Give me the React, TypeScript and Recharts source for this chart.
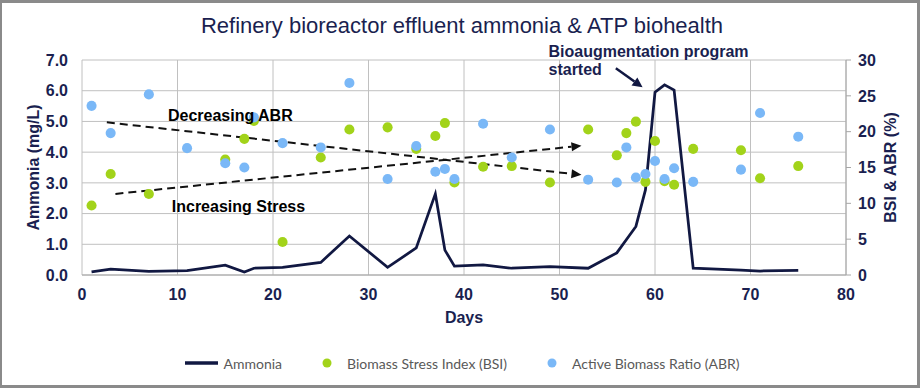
import React from 'react';
import {
  ComposedChart,
  Line,
  Scatter,
  XAxis,
  YAxis,
  ZAxis,
  CartesianGrid,
  Legend,
  ReferenceLine,
  ReferenceDot,
} from 'recharts';

// ---------- data ----------
const ammoniaDays = [1, 3, 7, 11, 15, 17, 18, 21, 25, 28, 32, 35, 37, 38, 39, 42, 45, 49, 53, 56, 58, 59, 60, 61, 62, 64, 69, 71, 75];
const ammoniaValues = [0.1, 0.19, 0.12, 0.14, 0.32, 0.1, 0.22, 0.25, 0.41, 1.27, 0.25, 0.88, 2.64, 0.81, 0.29, 0.33, 0.22, 0.27, 0.22, 0.72, 1.58, 2.77, 5.95, 6.19, 6.02, 0.22, 0.16, 0.13, 0.15];

const bsiDays = [1, 3, 7, 15, 17, 18, 21, 25, 28, 32, 35, 37, 38, 39, 42, 45, 49, 53, 56, 57, 58, 59, 60, 61, 62, 64, 69, 71, 75];
const bsiValues = [9.7, 14.1, 11.3, 16.1, 19.0, 21.5, 4.6, 16.4, 20.3, 20.6, 17.6, 19.4, 21.2, 12.9, 15.1, 15.2, 12.9, 20.3, 16.7, 19.8, 21.4, 13.0, 18.7, 13.1, 12.6, 17.6, 17.4, 13.5, 15.2];

const abrDays = [1, 3, 7, 11, 15, 17, 18, 21, 25, 28, 32, 35, 37, 38, 39, 42, 45, 49, 53, 56, 57, 58, 59, 60, 61, 62, 64, 69, 71, 75];
const abrValues = [23.6, 19.8, 25.2, 17.7, 15.6, 15.0, 22.0, 18.4, 17.8, 26.8, 13.4, 18.0, 14.4, 14.8, 13.4, 21.1, 16.4, 20.3, 13.3, 12.9, 17.8, 13.6, 14.1, 15.9, 13.4, 14.9, 13.0, 14.7, 22.6, 19.3];

const xTicks = [0, 10, 20, 30, 40, 50, 60, 70, 80];
const leftTicks = [0, 1, 2, 3, 4, 5, 6, 7];
const rightTicks = [0, 5, 10, 15, 20, 25, 30];

const seriesNames = ['Ammonia', 'Biomass Stress Index (BSI)', 'Active Biomass Ratio (ABR)'];

// annotation anchors (data units: day, ammonia mg/L)
const decreasingTrend = [{ x: 2.6, y: 4.97 }, { x: 52.3, y: 3.26 }];
const increasingTrend = [{ x: 3.5, y: 2.64 }, { x: 52.3, y: 4.21 }];
const bioArrow = [{ x: 55.9, y: 6.73 }, { x: 58.7, y: 6.11 }];
const decreasingLabel = { x: 9.0, y: 5.01, text: 'Decreasing ABR' };
const increasingLabel = { x: 9.4, y: 2.05, text: 'Increasing Stress' };
const bioLabel1 = { x: 48.85, y: 7.11, text: 'Bioaugmentation program' };
const bioLabel2 = { x: 48.85, y: 6.51, text: 'started' };

const ammoniaData = ammoniaDays.map((d, i) => ({ day: d, ammonia: ammoniaValues[i] }));
const bsiData = bsiDays.map((d, i) => ({ day: d, pct: bsiValues[i] }));
const abrData = abrDays.map((d, i) => ({ day: d, pct: abrValues[i] }));

// ---------- styles ----------
const NAVY = '#111842';
const TEXT_NAVY = '#1a1f50';
const GREEN = '#a2d31a';
const BLUE = '#7ab8f7';
const GRID = '#c0c0c0';
const FONT = "'Liberation Sans', Arial, sans-serif";

const makeArrow = (color: string, width: number, dash?: string, headLen = 10, headHalf = 4.5) =>
  (props: any) => {
    const { x1, y1, x2, y2 } = props;
    const dx = x2 - x1;
    const dy = y2 - y1;
    const len = Math.sqrt(dx * dx + dy * dy) || 1;
    const ux = dx / len;
    const uy = dy / len;
    const bx = x2 - ux * headLen;
    const by = y2 - uy * headLen;
    const px = -uy * headHalf;
    const py = ux * headHalf;
    return (
      <g>
        <line x1={x1} y1={y1} x2={bx} y2={by} stroke={color} strokeWidth={width} strokeDasharray={dash} />
        <polygon points={`${x2},${y2} ${bx + px},${by + py} ${bx - px},${by - py}`} fill={color} />
      </g>
    );
  };

const makeText = (text: string, color: string) => (props: any) => (
  <text x={props.cx} y={props.cy} fill={color} fontSize={16} fontWeight={700} fontFamily={FONT} textAnchor="start">
    {text}
  </text>
);

const LegendContent = (props: any) => {
  const payload = [...(props.payload || [])].sort(
    (a: any, b: any) => seriesNames.indexOf(a.value) - seriesNames.indexOf(b.value)
  );
  return (
    <div
      style={{
        display: 'flex',
        justifyContent: 'center',
        alignItems: 'center',
        height: 20,
        paddingLeft: 4,
        fontFamily: 'Lato, sans-serif',
        fontSize: 14,
        color: '#595959',
      }}
    >
      {payload.map((entry: any, i: number) => (
        <div key={i} style={{ display: 'flex', alignItems: 'center', marginRight: i < payload.length - 1 ? 40 : 0 }}>
          {entry.type === 'line' ? (
            <svg width={33} height={6} style={{ marginRight: 6 }}>
              <line x1={0} y1={3} x2={33} y2={3} stroke={entry.color} strokeWidth={3.5} />
            </svg>
          ) : (
            <svg width={10} height={10} style={{ marginRight: 15 }}>
              <circle cx={5} cy={5} r={4.5} fill={entry.color} />
            </svg>
          )}
          <span>{entry.value}</span>
        </div>
      ))}
    </div>
  );
};

const tickStyle = { fill: TEXT_NAVY, fontSize: 16, fontWeight: 700, fontFamily: FONT };
const axisTitleStyle = { textAnchor: 'middle' as const, fill: TEXT_NAVY, fontSize: 16, fontWeight: 700, fontFamily: FONT };

export default function App() {
  return (
    <div style={{ position: 'absolute', left: 0, top: 0, width: 920, height: 388, background: '#fff', fontFamily: FONT }}>
      <div
        style={{
          position: 'absolute',
          top: 15,
          left: 0,
          width: 920,
          textAlign: 'center',
          fontSize: 22,
          lineHeight: '22px',
          color: TEXT_NAVY,
          fontFamily: FONT,
          paddingLeft: 4,
          boxSizing: 'border-box',
        }}
      >
        Refinery bioreactor effluent ammonia &amp; ATP biohealth
      </div>
      <ComposedChart width={920} height={388} margin={{ top: 60, right: 10, bottom: 68, left: 10 }}>
        <CartesianGrid yAxisId="left" stroke={GRID} strokeWidth={1} />
        <XAxis
          dataKey="day"
          type="number"
          domain={[0, 80]}
          ticks={xTicks}
          allowDataOverflow
          height={45}
          tickSize={0}
          tickMargin={14}
          tickLine={false}
          axisLine={{ stroke: '#a6a6a6' }}
          tick={tickStyle}
          label={{ value: 'Days', position: 'insideBottom', offset: -3, style: axisTitleStyle }}
        />
        <YAxis
          yAxisId="left"
          type="number"
          domain={[0, 7]}
          ticks={leftTicks}
          allowDataOverflow
          width={72}
          tickSize={0}
          tickMargin={14}
          tickLine={false}
          axisLine={false}
          tick={tickStyle}
          tickFormatter={(v: number) => v.toFixed(1)}
          label={{ value: 'Ammonia (mg/L)', angle: -90, position: 'insideLeft', offset: 23, style: axisTitleStyle }}
        />
        <YAxis
          yAxisId="right"
          orientation="right"
          type="number"
          domain={[0, 30]}
          ticks={rightTicks}
          allowDataOverflow
          width={64}
          tickSize={5}
          tickMargin={7}
          tickLine={{ stroke: '#a6a6a6' }}
          axisLine={{ stroke: '#a6a6a6' }}
          tick={tickStyle}
          label={{ value: 'BSI & ABR (%)', angle: -90, position: 'insideRight', offset: 20, style: axisTitleStyle }}
        />
        <ZAxis range={[80, 80]} />
        <Line
          yAxisId="left"
          data={ammoniaData}
          dataKey="ammonia"
          name={seriesNames[0]}
          type="linear"
          stroke={NAVY}
          strokeWidth={2.75}
          dot={false}
          activeDot={false}
          isAnimationActive={false}
        />
        <Scatter
          yAxisId="right"
          data={bsiData}
          dataKey="pct"
          name={seriesNames[1]}
          fill={GREEN}
          isAnimationActive={false}
        />
        <Scatter
          yAxisId="right"
          data={abrData}
          dataKey="pct"
          name={seriesNames[2]}
          fill={BLUE}
          isAnimationActive={false}
        />
        <ReferenceLine yAxisId="left" segment={decreasingTrend} shape={makeArrow('#111', 2, '8 5')} ifOverflow="visible" />
        <ReferenceLine yAxisId="left" segment={increasingTrend} shape={makeArrow('#111', 2, '8 5')} ifOverflow="visible" />
        <ReferenceLine yAxisId="left" segment={bioArrow} shape={makeArrow(NAVY, 2.5, undefined, 10, 5)} ifOverflow="visible" />
        <ReferenceDot yAxisId="left" x={decreasingLabel.x} y={decreasingLabel.y} ifOverflow="visible" shape={makeText(decreasingLabel.text, '#000')} />
        <ReferenceDot yAxisId="left" x={increasingLabel.x} y={increasingLabel.y} ifOverflow="visible" shape={makeText(increasingLabel.text, '#000')} />
        <ReferenceDot yAxisId="left" x={bioLabel1.x} y={bioLabel1.y} ifOverflow="visible" shape={makeText(bioLabel1.text, TEXT_NAVY)} />
        <ReferenceDot yAxisId="left" x={bioLabel2.x} y={bioLabel2.y} ifOverflow="visible" shape={makeText(bioLabel2.text, TEXT_NAVY)} />
        <Legend
          layout="horizontal"
          verticalAlign="middle"
          align="center"
          content={LegendContent}
          wrapperStyle={{ position: 'absolute', top: 353, left: 0, width: 920, height: 20 }}
        />
      </ComposedChart>
      <div
        style={{
          position: 'absolute',
          left: 0,
          top: 0,
          width: 920,
          height: 388,
          boxSizing: 'border-box',
          borderStyle: 'solid',
          borderColor: '#8a8a8a',
          borderWidth: '3px 3px 3px 2px',
          pointerEvents: 'none',
        }}
      />
    </div>
  );
}
